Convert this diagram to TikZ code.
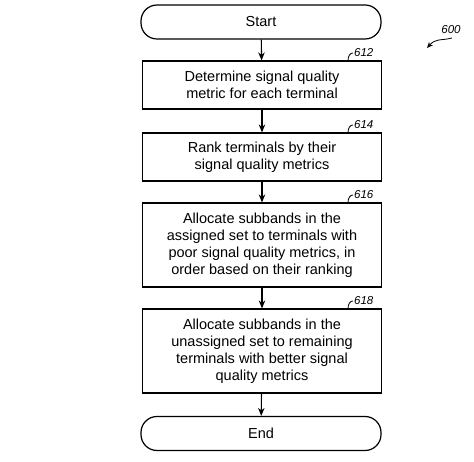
\documentclass[tikz,border=0pt]{standalone}
\usepackage{fontspec}
\setmainfont{Liberation Sans}
\usetikzlibrary{arrows.meta}
\begin{document}
\begin{tikzpicture}[x=1pt,y=-1pt,
  term/.style={draw, line width=1.2pt, rounded corners=16pt, minimum width=240pt, minimum height=34pt, font=\fontsize{14.5}{17}\selectfont},
  stepbox/.style={draw, line width=1.2pt, minimum width=239pt, align=center, font=\fontsize{14.5}{17}\selectfont, inner sep=0pt},
  arr/.style={line width=1.1pt, -{Stealth[length=8pt,width=6.5pt]}},
  lbl/.style={font=\fontsize{11.5}{13}\selectfont\itshape, inner sep=1pt},
  lead/.style={line width=0.8pt}]
\useasboundingbox (0,0) rectangle (474,462);
\node[term] (start) at (261,22) {Start};
\node[stepbox, minimum height=48pt] (b612) at (262,85) {Determine signal quality\\metric for each terminal};
\node[stepbox, minimum height=48pt] (b614) at (262,157) {Rank terminals by their\\signal quality metrics};
\node[stepbox, minimum height=84pt] (b616) at (262,245) {Allocate subbands in the\\assigned set to terminals with\\poor signal quality metrics, in\\order based on their ranking};
\node[stepbox, minimum height=84pt] (b618) at (262,351) {Allocate subbands in the\\unassigned set to remaining\\terminals with better signal\\quality metrics};
\node[term] (end) at (261,433.5) {End};
\draw[arr] (start) -- (b612);
\draw[arr] (b612) -- (b614);
\draw[arr] (b614) -- (b616);
\draw[arr] (b616) -- (b618);
\draw[arr] (b618) -- (end);
% reference labels
\node[lbl, anchor=west] (l612) at (353,53) {612};
\node[lbl, anchor=west] (l614) at (353,125) {614};
\node[lbl, anchor=west] (l616) at (353,195) {616};
\node[lbl, anchor=west] (l618) at (353,301) {618};
\coordinate (c612) at (348,61);
\coordinate (c614) at (348,133);
\coordinate (c616) at (348,203);
\coordinate (c618) at (348,309);
\draw[lead] (c612) .. controls (348,56) and (350,53) .. (l612.west);
\draw[lead] (c614) .. controls (348,128) and (350,125) .. (l614.west);
\draw[lead] (c616) .. controls (348,198) and (350,195) .. (l616.west);
\draw[lead] (c618) .. controls (348,304) and (350,301) .. (l618.west);
\node[lbl] (l600) at (451,30) {600};
\coordinate (a600) at (427,48);
\draw[lead, -{Stealth[length=6pt,width=5pt]}] (452,38) .. controls (440,41) and (436,38) .. (a600);
\end{tikzpicture}
\end{document}
